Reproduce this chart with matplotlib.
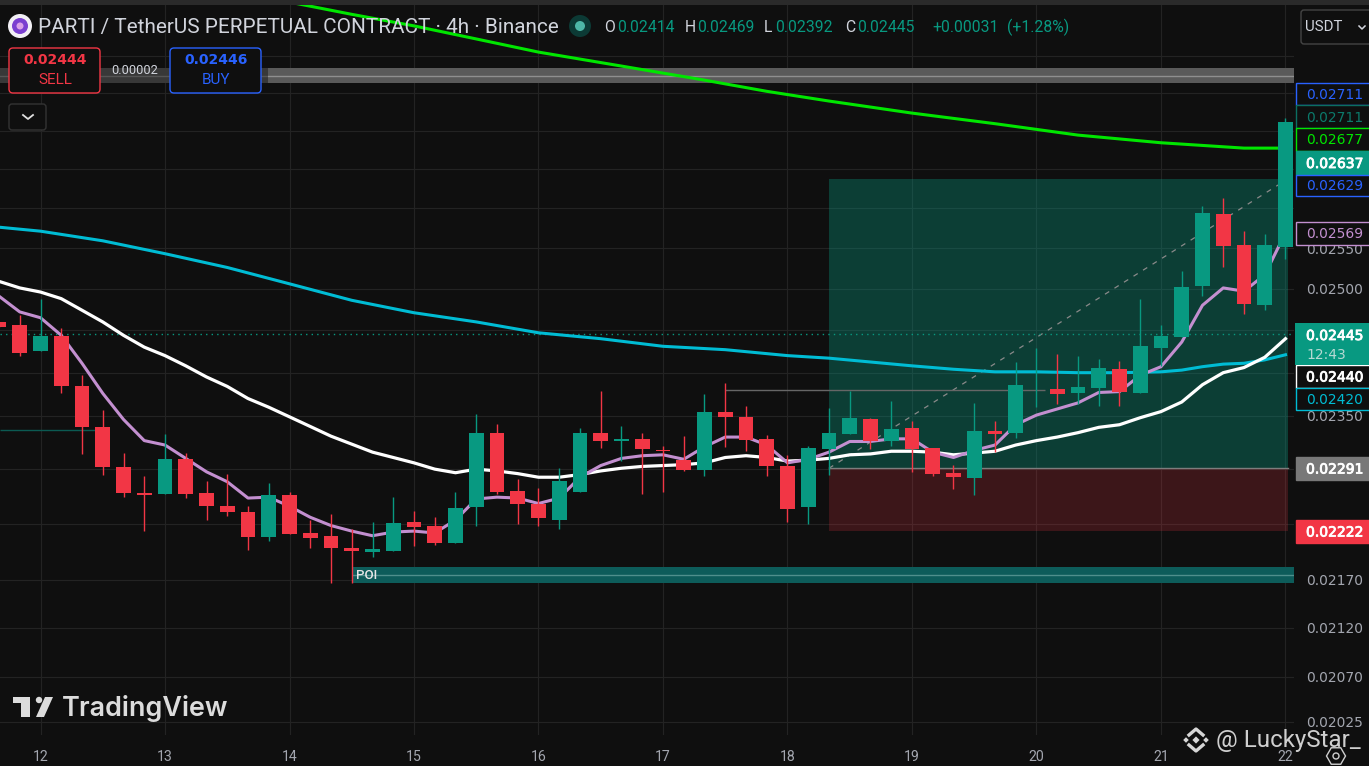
"""PARTI / USDT perpetual 4h candlestick chart in the TradingView dark look."""
import matplotlib

matplotlib.use("Agg")
import matplotlib.patheffects as path_effects  # noqa
import matplotlib.pyplot as plt  # noqa
import numpy as np
from matplotlib.patches import Circle, FancyBboxPatch, Polygon, Rectangle, RegularPolygon
from matplotlib.ticker import NullLocator

BG = "#0f0f0f"
UP = "#089981"
DOWN = "#f23645"
GRID = "#232323"

# candles, first bar sits two bars left of the day "12"
FIRST_BAR = -2
OPENS = [
    0.02460, 0.02456, 0.02425, 0.02443, 0.02384, 0.02337, 0.02292, 0.02264, 0.02263, 0.02301,
    0.02264, 0.02249, 0.02243, 0.02216, 0.02261, 0.02220, 0.02217, 0.02204, 0.02199, 0.02201,
    0.02232, 0.02227, 0.02209, 0.02248, 0.02331, 0.02266, 0.02252, 0.02234, 0.02265, 0.02331,
    0.02321, 0.02324, 0.02311, 0.02300, 0.02289, 0.02354, 0.02349, 0.02324, 0.02293, 0.02248,
    0.02313, 0.02330, 0.02347, 0.02321, 0.02336, 0.02314, 0.02286, 0.02280, 0.02333, 0.02331,
    0.02384, 0.02381, 0.02376, 0.02382, 0.02404, 0.02376, 0.02429, 0.02442, 0.02503, 0.02593,
    0.02554, 0.02480, 0.02551,
]
HIGHS = [
    0.02460, 0.02468, 0.02488, 0.02453, 0.02397, 0.02357, 0.02308, 0.02282, 0.02330, 0.02308,
    0.02277, 0.02285, 0.02249, 0.02275, 0.02265, 0.02234, 0.02241, 0.02224, 0.02232, 0.02259,
    0.02244, 0.02237, 0.02265, 0.02352, 0.02341, 0.02279, 0.02269, 0.02291, 0.02336, 0.02379,
    0.02339, 0.02331, 0.02316, 0.02327, 0.02375, 0.02388, 0.02361, 0.02328, 0.02306, 0.02316,
    0.02359, 0.02379, 0.02348, 0.02367, 0.02344, 0.02314, 0.02295, 0.02365, 0.02344, 0.02413,
    0.02429, 0.02422, 0.02420, 0.02416, 0.02414, 0.02488, 0.02456, 0.02522, 0.02603, 0.02613,
    0.02571, 0.02568, 0.02716,
]
LOWS = [
    0.02454, 0.02419, 0.02425, 0.02376, 0.02307, 0.02284, 0.02259, 0.02222, 0.02263, 0.02258,
    0.02234, 0.02238, 0.02202, 0.02211, 0.02219, 0.02204, 0.02167, 0.02167, 0.02194, 0.02201,
    0.02206, 0.02207, 0.02209, 0.02228, 0.02262, 0.02230, 0.02227, 0.02224, 0.02265, 0.02314,
    0.02299, 0.02262, 0.02265, 0.02288, 0.02282, 0.02315, 0.02310, 0.02282, 0.02232, 0.02230,
    0.02284, 0.02330, 0.02313, 0.02316, 0.02287, 0.02282, 0.02268, 0.02261, 0.02309, 0.02325,
    0.02360, 0.02364, 0.02364, 0.02361, 0.02361, 0.02376, 0.02408, 0.02442, 0.02491, 0.02527,
    0.02469, 0.02474, 0.02537,
]
CLOSES = [
    0.02454, 0.02423, 0.02443, 0.02384, 0.02337, 0.02292, 0.02264, 0.02261, 0.02301, 0.02262,
    0.02249, 0.02243, 0.02216, 0.02261, 0.02219, 0.02215, 0.02204, 0.02201, 0.02203, 0.02231,
    0.02226, 0.02209, 0.02247, 0.02331, 0.02265, 0.02251, 0.02236, 0.02277, 0.02331, 0.02322,
    0.02324, 0.02312, 0.02310, 0.02289, 0.02354, 0.02349, 0.02323, 0.02293, 0.02246, 0.02314,
    0.02331, 0.02348, 0.02322, 0.02335, 0.02313, 0.02285, 0.02281, 0.02333, 0.02330, 0.02386,
    0.02385, 0.02375, 0.02383, 0.02406, 0.02378, 0.02431, 0.02443, 0.02502, 0.02594, 0.02552,
    0.02482, 0.02554, 0.02711,
]

# moving averages, one value per bar
PURPLE = [
    0.02491, 0.02472, 0.02465, 0.02444, 0.02411, 0.02376, 0.02346, 0.02322, 0.02317, 0.02302,
    0.02287, 0.02276, 0.02258, 0.02259, 0.02249, 0.02237, 0.02228, 0.02222, 0.02217, 0.02221,
    0.02222, 0.02220, 0.02234, 0.02257, 0.02259, 0.02258, 0.02252, 0.02258, 0.02281, 0.02294,
    0.02302, 0.02305, 0.02306, 0.02301, 0.02315, 0.02326, 0.02326, 0.02317, 0.02297, 0.02301,
    0.02309, 0.02321, 0.02321, 0.02324, 0.02324, 0.02309, 0.02303, 0.02311, 0.02317, 0.02340,
    0.02351, 0.02358, 0.02365, 0.02377, 0.02378, 0.02397, 0.02407, 0.02436, 0.02480, 0.02501,
    0.02497, 0.02517, 0.02569,
]
WHITE = [
    0.02509, 0.02501, 0.02496, 0.02488, 0.02474, 0.02460, 0.02444, 0.02430, 0.02420, 0.02408,
    0.02395, 0.02384, 0.02370, 0.02360, 0.02349, 0.02338, 0.02327, 0.02318, 0.02309, 0.02303,
    0.02297, 0.02290, 0.02286, 0.02290, 0.02288, 0.02285, 0.02281, 0.02281, 0.02284, 0.02288,
    0.02291, 0.02293, 0.02294, 0.02295, 0.02297, 0.02303, 0.02305, 0.02303, 0.02299, 0.02300,
    0.02302, 0.02306, 0.02307, 0.02310, 0.02310, 0.02309, 0.02306, 0.02308, 0.02310, 0.02317,
    0.02322, 0.02326, 0.02331, 0.02337, 0.02340, 0.02348, 0.02355, 0.02366, 0.02386, 0.02400,
    0.02406, 0.02418, 0.02440,
]
# slow averages, read at fewer bars
CYAN_BARS = [-2, 0, 3, 6, 9, 12, 15, 18, 21, 24, 27, 30, 33, 36, 38, 42, 44, 46, 48, 50, 52, 54, 55, 56, 57, 58, 59, 60]
CYAN = [
    0.02576, 0.02571, 0.02559, 0.02543, 0.02526, 0.02506, 0.02486, 0.02471, 0.02460, 0.02447,
    0.02440, 0.02431, 0.02427, 0.02420, 0.02417, 0.02408, 0.02404, 0.02401, 0.02401, 0.02400,
    0.02400, 0.02401, 0.02403, 0.02407, 0.02410, 0.02411, 0.02415, 0.02421,
]
LIME_BARS = [12, 15, 18, 21, 24, 28, 32, 35, 38, 42, 46, 50, 54, 58, 60]
LIME = [
    0.02874, 0.02857, 0.02841, 0.02823, 0.02805, 0.02786, 0.02767, 0.02752, 0.02739, 0.02723,
    0.02709, 0.02694, 0.02684, 0.02677, 0.02677,
]

# long position tool
ENTRY = 0.02291
TARGET = 0.02637
STOP = 0.02222
LONG_FROM = 38
LONG_TO = 60.1

LAST_PRICE = 0.02445
POI_TOP, POI_MID, POI_BOTTOM = 0.021836, 0.02175, 0.021666
BAND_TOP, BAND_MID, BAND_BOTTOM = 0.02783, 0.02773, 0.02763
GRAY_LEVEL = 0.02380
TEAL_LEVEL = 0.02334

GRID_PRICES = [
    0.0280, 0.0275, 0.0270, 0.0265, 0.0260, 0.0255, 0.0250, 0.0245, 0.0240, 0.0235,
    0.0229, 0.0223, 0.0217, 0.0212, 0.0207, 0.02025,
]
SHOWN_PRICES = ["0.02550", "0.02500", "0.02350", "0.02170", "0.02120", "0.02070", "0.02025"]
DAY_TICKS = list(range(0, 61, 6))
DAY_LABELS = ["12", "13", "14", "15", "16", "17", "18", "19", "20", "21", "22"]

# right axis tags: text, top, bottom, edge, fill, text colour
TAG_TEXT = ["0.02711", "0.02711", "0.02677", "0.02637", "0.02629", "0.02569", "0.02440", "0.02420", "0.02291", "0.02222"]
TAG_TOP = [83, 105, 128, 151, 175, 222, 365, 388, 457, 520]
TAG_BOTTOM = [105, 128, 151, 175, 196, 245, 388, 410, 480, 543]
TAG_EDGE = ["#2962ff", "#0b6f62", "#00e600", UP, "#2962ff", "#c38fd0", "#ffffff", "#00bcd4", "#787878", DOWN]
TAG_FILL = [BG, BG, BG, UP, BG, BG, BG, BG, "#787878", DOWN]
TAG_COLOR = ["#2962ff", "#0b7a6b", "#00e600", "#ffffff", "#2962ff", "#c38fd0", "#ffffff", "#00bcd4", "#ffffff", "#ffffff"]

OHLC_TEXT = ["O", "0.02414", "H", "0.02469", "L", "0.02392", "C", "0.02445", "+0.00031", "(+1.28%)"]
OHLC_X = [604, 617, 685, 697, 764, 775, 845, 857, 932, 1007]
OHLC_COLOR = ["#d1d4dc", UP, "#d1d4dc", UP, "#d1d4dc", UP, "#d1d4dc", UP, UP, UP]

W, H = 1369, 766
CHART_RIGHT, CHART_TOP, CHART_BOTTOM = 1294, 5, 735

plt.rcParams["font.family"] = ["DejaVu Sans"]
fig = plt.figure(figsize=(W / 100, H / 100), dpi=100, facecolor=BG)
axis = fig.add_axes([0, 1 - CHART_BOTTOM / H, CHART_RIGHT / W, (CHART_BOTTOM - CHART_TOP) / H])
axis.set_facecolor(BG)
for spine in axis.spines.values():
    spine.set_visible(False)

bars = np.arange(FIRST_BAR, FIRST_BAR + len(OPENS))
opens, highs, lows, closes = map(np.array, (OPENS, HIGHS, LOWS, CLOSES))
rising = closes >= opens

axis.set_yscale("log")
axis.set_xlim(-1.952, 60.41)
axis.set_ylim(0.020122, 0.028700)
axis.yaxis.set_minor_locator(NullLocator())
axis.set_yticks(GRID_PRICES)
axis.set_yticklabels(
    [f"{p:.5f}" if f"{p:.5f}" in SHOWN_PRICES else "" for p in GRID_PRICES], color="#a3a6af", fontsize=10
)
axis.yaxis.tick_right()
axis.set_xticks(DAY_TICKS)
axis.set_xticklabels(DAY_LABELS, color="#a3a6af", fontsize=10.2, family="Roboto")
axis.tick_params(axis="both", which="both", length=0)
axis.tick_params(axis="y", pad=8.6)
axis.tick_params(axis="x", pad=11)
axis.grid(True, color=GRID, linewidth=0.8)
axis.set_axisbelow(True)

# position tool and levels
axis.add_patch(Rectangle((LONG_FROM, ENTRY), LONG_TO - LONG_FROM, TARGET - ENTRY, fc=UP, alpha=0.34, lw=0, zorder=1))
axis.add_patch(Rectangle((LONG_FROM, STOP), LONG_TO - LONG_FROM, ENTRY - STOP, fc=DOWN, alpha=0.20, lw=0, zorder=1))
axis.plot([LONG_FROM, LONG_TO], [ENTRY, ENTRY], color="#7d7d7d", lw=1, zorder=1.5)
axis.plot([LONG_FROM, LONG_TO], [ENTRY, TARGET], color="#8a8a8a", lw=0.9, ls=(0, (4, 5)), zorder=1.5)
axis.hlines(GRAY_LEVEL, 33, 48.4, color="#666666", lw=1, zorder=1.5)
axis.hlines(TEAL_LEVEL, -1.952, 2.7, color="#0b5a52", lw=1, zorder=1.5)
axis.axhspan(BAND_BOTTOM, BAND_TOP, color="#5a5a5a", lw=0, zorder=1.2)
axis.axhline(BAND_MID, color="#8f8f8f", lw=1, zorder=1.3)
axis.add_patch(Rectangle((15, POI_BOTTOM), 60.41 - 15, POI_TOP - POI_BOTTOM, fc="#0d5c5a", lw=0, zorder=1.2))
axis.hlines(POI_MID, 15, 60.41, color="#4f8f8c", lw=1, zorder=1.3)
axis.axhline(LAST_PRICE, color=UP, lw=1, ls=(0, (1, 3)), zorder=1.6)
axis.text(15.2, POI_MID, "POI", color="#e6e6e6", fontsize=9.5, fontweight="medium", family="Roboto", va="center", zorder=6)

# averages sit under the candles
axis.plot(LIME_BARS, LIME, color="#00e600", lw=2.2, zorder=2)
axis.plot(CYAN_BARS, CYAN, color="#00bcd4", lw=2.2, zorder=2)
axis.plot(bars, WHITE, color="#ffffff", lw=2.3, zorder=2.1)
axis.plot(bars, PURPLE, color="#c38fd0", lw=2.2, zorder=2.2)

colors = np.where(rising, UP, DOWN)
axis.vlines(bars, lows, highs, colors=colors, lw=1, zorder=3)
tops = np.maximum(opens, closes)
bottoms = np.minimum(opens, closes)
axis.bar(bars, tops - bottoms, bottom=bottoms, width=0.72, color=colors, lw=0, zorder=3.1)

# interface elements live on a full-figure pixel overlay
ui = fig.add_axes([0, 0, 1, 1], zorder=5)
ui.set_xlim(0, W)
ui.set_ylim(H, 0)
ui.axis("off")

ui.add_patch(Rectangle((0, 0), W, 5, fc="#2a2a2a", lw=0))
ui.add_patch(Rectangle((0, 68), 268, 15, fc=BG, alpha=0.45, lw=0))

# semi-bold look without the wider bold glyphs
heavy = [path_effects.withStroke(linewidth=0.6, foreground="#ffffff")]

# header
ui.add_patch(Circle((20, 26), 12, fc="#f2f0f5", lw=0))
ui.add_patch(Circle((20, 26), 8, fc="#7a3fd0", lw=0))
ui.add_patch(Circle((20, 26), 3.5, fc="#d9a0e8", lw=0))
ui.text(38, 28, "PARTI / TetherUS PERPETUAL CONTRACT · 4h · Binance", color="#d1d4dc", fontsize=14.95,
        family="Roboto", va="center")
ui.add_patch(Circle((580, 26), 11, fc="#0c3a35", lw=0))
ui.add_patch(Circle((580, 26), 5, fc="#4db6a6", lw=0))
for label, x_pos, color in zip(OHLC_TEXT, OHLC_X, OHLC_COLOR):
    ui.text(x_pos, 27, label, color=color, fontsize=11.3, family="Roboto", va="center")

# sell and buy buttons
for left, color, price, side in [(9, DOWN, "0.02444", "SELL"), (170, "#2962ff", "0.02446", "BUY")]:
    ui.add_patch(FancyBboxPatch((left + 4, 52), 83, 37, boxstyle="round,pad=4", fc=BG, ec=color, lw=1))
    ui.text(left + 46, 60, price, color=color, fontsize=10, fontweight="bold", ha="center", va="center")
    ui.text(left + 46, 80, side, color=color, fontsize=11, family="Roboto", ha="center", va="center")
ui.text(135, 71, "0.00002", color="#d1d4dc", fontsize=9.2, family="Roboto", ha="center", va="center")
ui.add_patch(FancyBboxPatch((12, 107), 31, 20, boxstyle="round,pad=3", fc=BG, ec="#333333", lw=1))
ui.plot([23, 28, 33], [115, 119, 115], color="#e0e0e0", lw=1.3)

# currency selector
ui.add_patch(FancyBboxPatch((1304, 13), 70, 28, boxstyle="round,pad=3", fc=BG, ec="#444444", lw=1))
ui.text(1305, 27, "USDT", color="#d1d4dc", fontsize=10.8, family="Roboto", va="center")
ui.plot([1359, 1362, 1365], [26, 29, 26], color="#d1d4dc", lw=1.1)

# price tags
for text, top, bottom, edge, fill, color in zip(TAG_TEXT, TAG_TOP, TAG_BOTTOM, TAG_EDGE, TAG_FILL, TAG_COLOR):
    ui.add_patch(Rectangle((1295.5, top), 75, bottom - top, fc=fill, ec=edge, lw=1))
    tag = ui.text(1306, (top + bottom) / 2 + 1, text, color=color, fontsize=10, va="center")
    if color == "#ffffff":
        tag.set_path_effects(heavy)
ui.add_patch(Rectangle((1295, 323), 75, 42, fc=UP, lw=0))
ui.text(1306, 336, "0.02445", color="#ffffff", fontsize=10, va="center", path_effects=heavy)
ui.text(1306, 355, "12:43", color="#b6d9d3", fontsize=10, va="center")

# TradingView mark
ui.add_patch(Polygon([(13, 697), (30, 697), (30, 717), (21, 717), (21, 703), (13, 703)], fc="#dcdcdc", lw=0))
ui.add_patch(Circle((39, 700), 3.2, fc="#dcdcdc", lw=0))
ui.add_patch(Polygon([(45, 697), (53, 697), (44, 717), (36, 717)], fc="#dcdcdc", lw=0))
ui.text(62, 708, "TradingView", color="#dcdcdc", fontsize=19.4, fontweight="semibold", family="Inter", va="center")

# watermark and settings icon
ui.plot([1189, 1196, 1203], [735, 729, 735], color="#d6d6d6", lw=2.4)
ui.plot([1189, 1196, 1203], [745, 751, 745], color="#d6d6d6", lw=2.4)
for x_pos, radius in [(1186, 2.8), (1196, 3.6), (1206, 2.8)]:
    ui.add_patch(RegularPolygon((x_pos, 740), 4, radius=radius, fc="#d6d6d6", lw=0))
ui.text(1216, 740, "@ LuckyStar_", color="#cfcfcf", fontsize=17.4, family="Roboto", va="center")
ui.add_patch(RegularPolygon((1336, 756), 6, radius=9.5, orientation=np.pi / 6, fc="none", ec="#cfcfcf", lw=1))
ui.add_patch(Circle((1336, 756), 3, fc="none", ec="#cfcfcf", lw=1))

fig.savefig("out.png", dpi=100, facecolor=BG)
